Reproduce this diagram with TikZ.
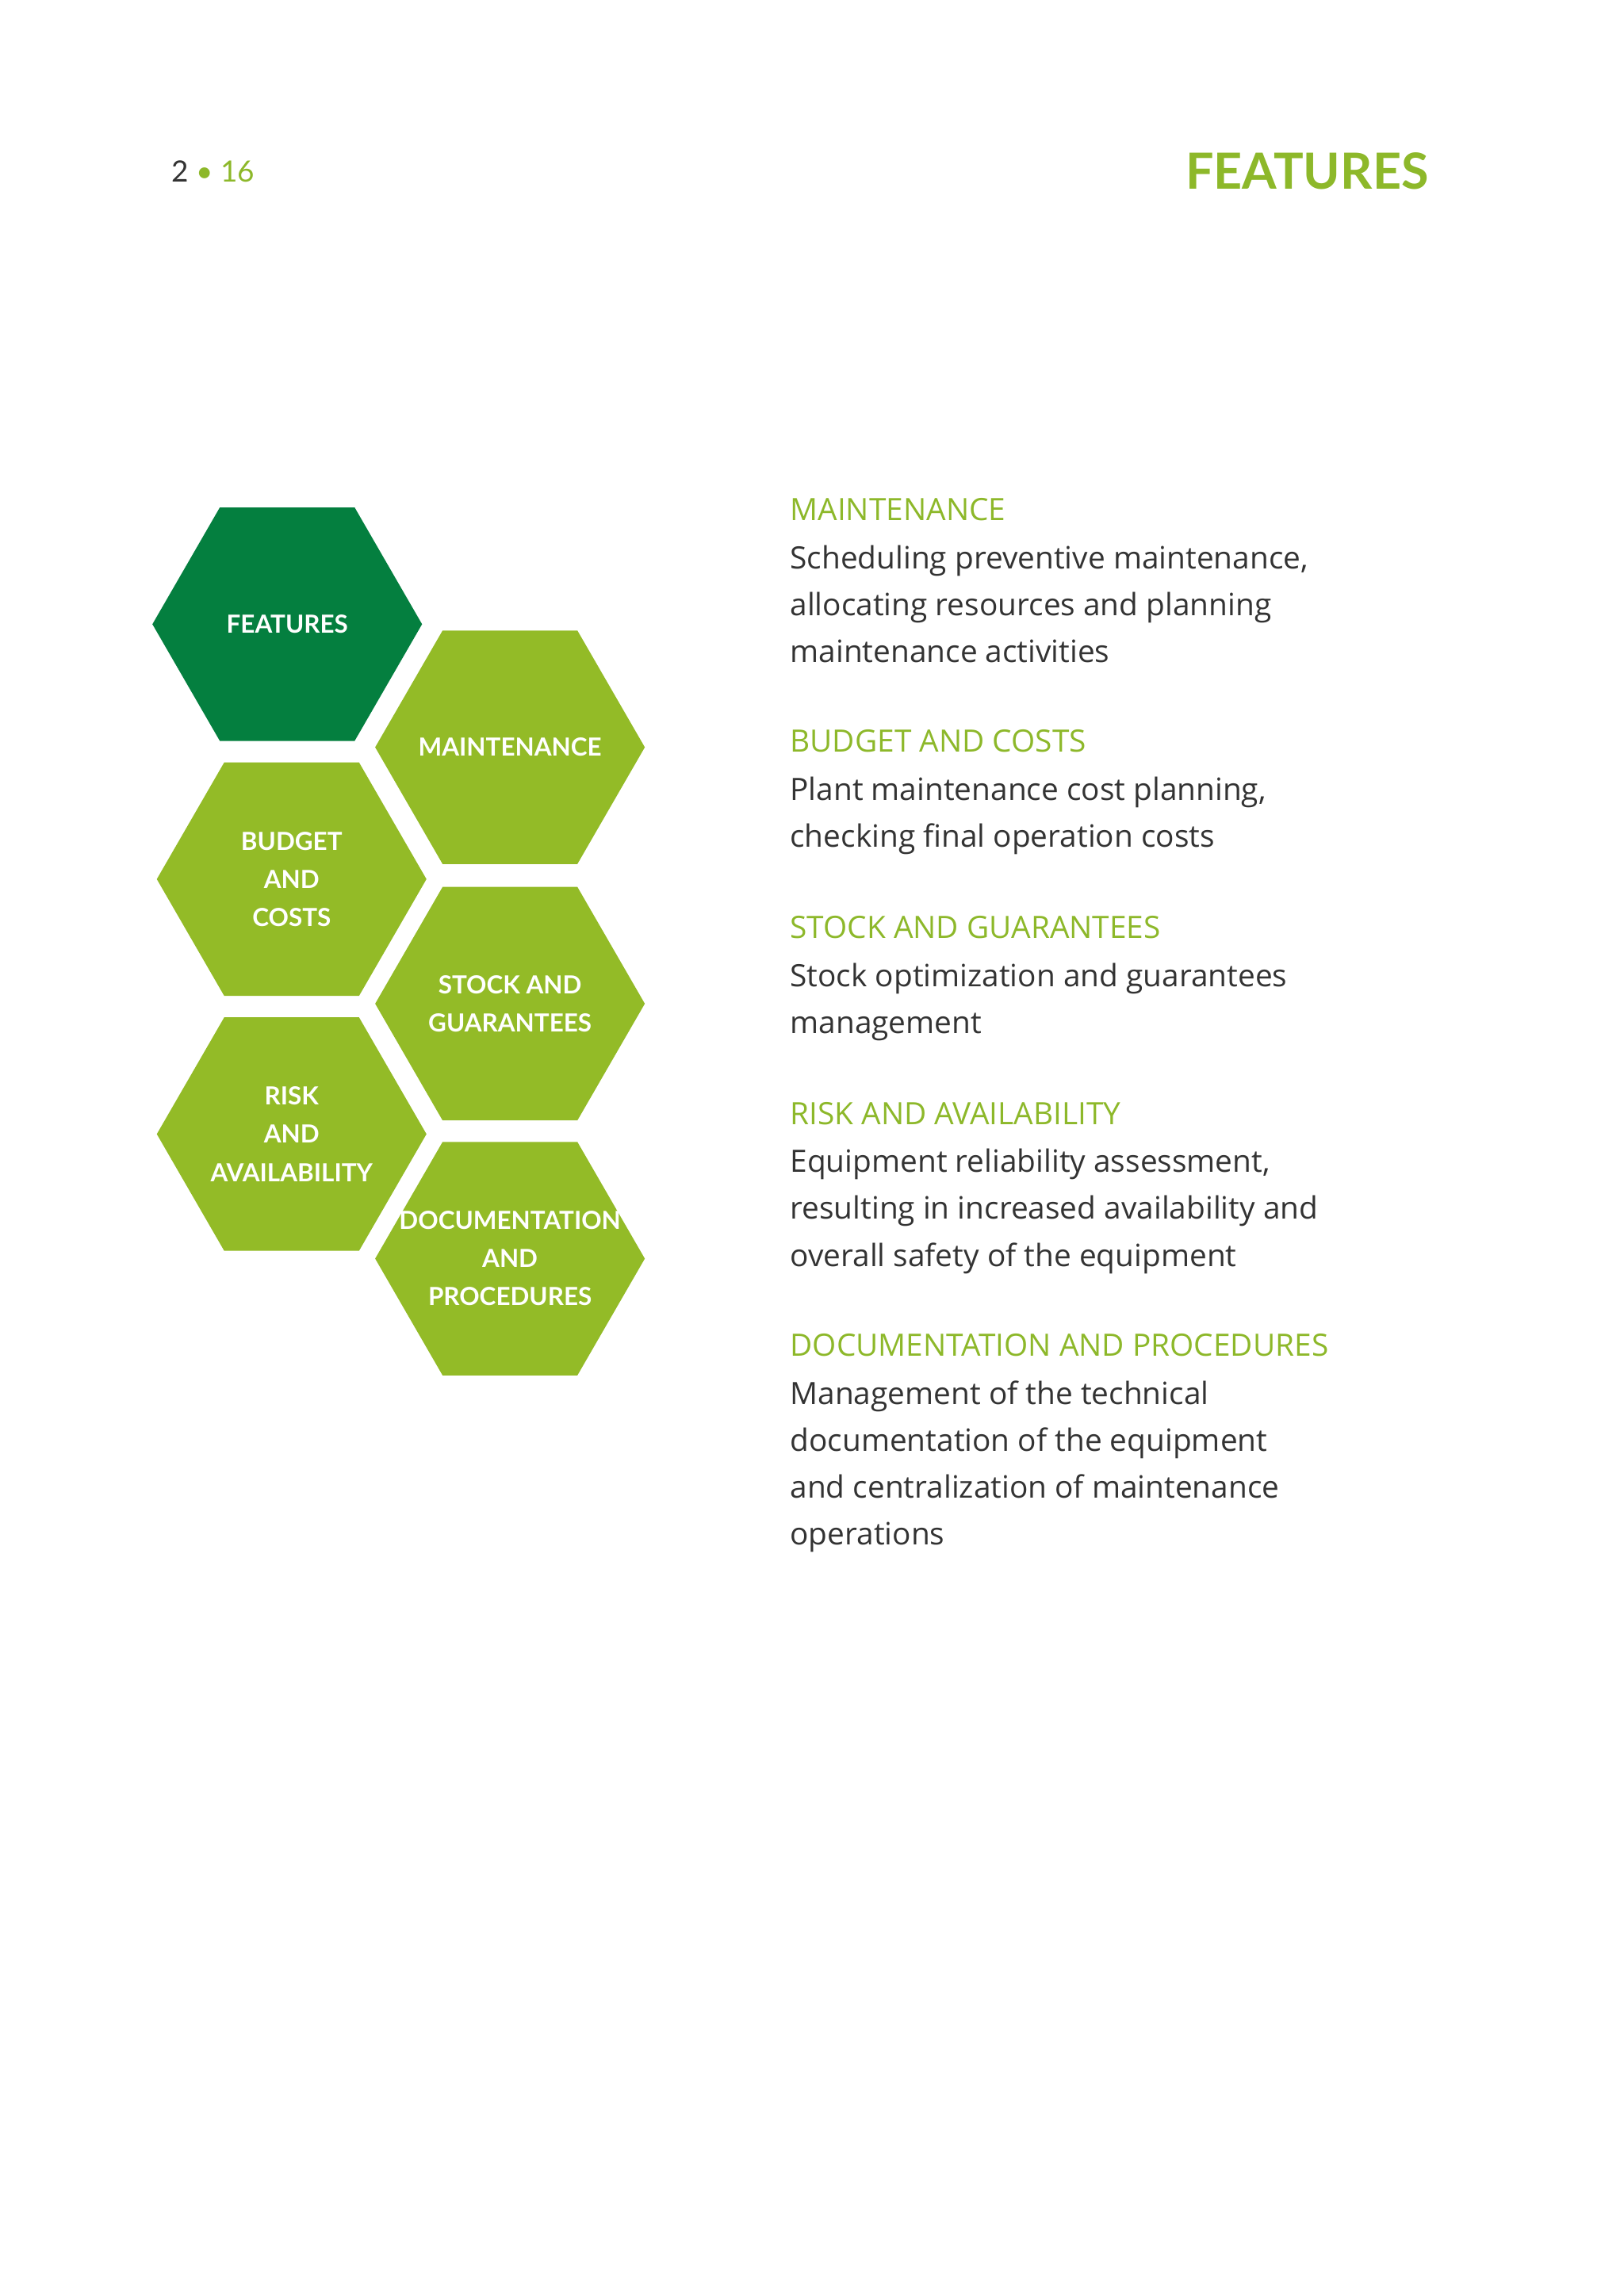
\documentclass[tikz,border=0pt]{standalone}
\usepackage{fontspec}
\setmainfont{Lato}
\newfontfamily\bodyfont{Open Sans}
\usetikzlibrary{shapes.geometric}
\definecolor{dkg}{HTML}{047F3F}
\definecolor{ltg}{HTML}{93BB27}
\definecolor{txg}{HTML}{8DB82A}
\definecolor{body}{HTML}{333333}
\begin{document}
\begin{tikzpicture}[x=1pt,y=1pt,
  hex/.style={regular polygon,regular polygon sides=6,minimum size=184pt,inner sep=0pt,fill=ltg},
  lbl/.style={text=white,font=\fontsize{17}{26}\selectfont\bfseries,align=center,inner sep=0pt},
  head/.style={anchor=north west,text=txg,font=\bodyfont\fontsize{21}{32}\selectfont,inner sep=0pt},
  bodytxt/.style={anchor=north west,text=body,font=\bodyfont\fontsize{21}{32}\selectfont,align=left,inner sep=0pt}]
\useasboundingbox (0,0) rectangle (1108,-1567);
\node[anchor=west,font=\fontsize{20}{24}\selectfont,text=body,inner sep=0pt] (pg) at (117,-117) {2 \textcolor{txg}{•} \textcolor{txg}{16}};
\node[anchor=east,font=\fontsize{34}{38}\selectfont\bfseries,text=txg,inner sep=0pt] (tt) at (975,-117) {FEATURES};
\node[hex,fill=dkg] (f) at (196,-426) {};
\node[hex] (m) at (348,-510) {};
\node[hex] (b) at (199,-600) {};
\node[hex] (s) at (348,-685) {};
\node[hex] (r) at (199,-774) {};
\node[hex] (d) at (348,-859) {};
\node[lbl] (fl) at (f) {FEATURES};
\node[lbl] (ml) at (m) {MAINTENANCE};
\node[lbl] (bl) at (b) {BUDGET\\AND\\COSTS};
\node[lbl] (sl) at (s) {STOCK AND\\GUARANTEES};
\node[lbl] (rl) at (r) {RISK\\AND\\AVAILABILITY};
\node[lbl] (dl) at (d) {DOCUMENTATION\\AND\\PROCEDURES};
\node[head] (h1) at (539,-340) {MAINTENANCE};
\node[bodytxt] (t1) at (539,-372) {Scheduling preventive maintenance,\\allocating resources and planning\\maintenance activities};
\node[head] (h2) at (539,-498) {BUDGET AND COSTS};
\node[bodytxt] (t2) at (539,-530) {Plant maintenance cost planning,\\checking final operation costs};
\node[head] (h3) at (539,-625) {STOCK AND GUARANTEES};
\node[bodytxt] (t3) at (539,-657) {Stock optimization and guarantees\\management};
\node[head] (h4) at (539,-752) {RISK AND AVAILABILITY};
\node[bodytxt] (t4) at (539,-784) {Equipment reliability assessment,\\resulting in increased availability and\\overall safety of the equipment};
\node[head] (h5) at (539,-910) {DOCUMENTATION AND PROCEDURES};
\node[bodytxt] (t5) at (539,-942) {Management of the technical\\documentation of the equipment\\and centralization of maintenance\\operations};
\end{tikzpicture}
\end{document}
